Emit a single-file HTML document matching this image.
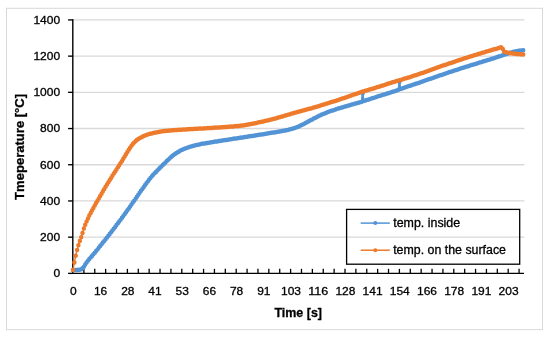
<!DOCTYPE html>
<html lang="en"><head><meta charset="utf-8"><title>Temperature chart</title>
<style>html,body{margin:0;padding:0;background:#fff}body{width:550px;height:339px;overflow:hidden}svg{display:block}text{font-family:"Liberation Sans",sans-serif;fill:#000;stroke:#000;stroke-width:.3px;paint-order:stroke}</style></head><body>
<svg width="550" height="339" viewBox="0 0 550 339">
<rect width="550" height="339" fill="#fff"/>
<rect x="6.5" y="8.3" width="536" height="321.3" fill="none" stroke="#D9D9D9" stroke-width="1"/>
<line x1="73.0" x2="524.4" y1="19.90" y2="19.90" stroke="#D9D9D9" stroke-width="1.3"/>
<line x1="73.0" x2="524.4" y1="56.11" y2="56.11" stroke="#D9D9D9" stroke-width="1.3"/>
<line x1="73.0" x2="524.4" y1="92.31" y2="92.31" stroke="#D9D9D9" stroke-width="1.3"/>
<line x1="73.0" x2="524.4" y1="128.52" y2="128.52" stroke="#D9D9D9" stroke-width="1.3"/>
<line x1="73.0" x2="524.4" y1="164.73" y2="164.73" stroke="#D9D9D9" stroke-width="1.3"/>
<line x1="73.0" x2="524.4" y1="200.94" y2="200.94" stroke="#D9D9D9" stroke-width="1.3"/>
<line x1="73.0" x2="524.4" y1="237.14" y2="237.14" stroke="#D9D9D9" stroke-width="1.3"/>
<line x1="72.8" x2="72.8" y1="19.2" y2="274.0" stroke="#000" stroke-width="1.4"/>
<line x1="72.1" x2="524.0" y1="273.35" y2="273.35" stroke="#000" stroke-width="1.35"/>
<line x1="68.1" x2="73.0" y1="19.92" y2="19.92" stroke="#000" stroke-width="1.35"/>
<text x="60.1" y="23.80" font-size="11.4" text-anchor="end" textLength="26.7" lengthAdjust="spacingAndGlyphs">1400</text>
<line x1="68.1" x2="73.0" y1="56.13" y2="56.13" stroke="#000" stroke-width="1.35"/>
<text x="60.1" y="60.01" font-size="11.4" text-anchor="end" textLength="26.7" lengthAdjust="spacingAndGlyphs">1200</text>
<line x1="68.1" x2="73.0" y1="92.33" y2="92.33" stroke="#000" stroke-width="1.35"/>
<text x="60.1" y="96.21" font-size="11.4" text-anchor="end" textLength="26.7" lengthAdjust="spacingAndGlyphs">1000</text>
<line x1="68.1" x2="73.0" y1="128.54" y2="128.54" stroke="#000" stroke-width="1.35"/>
<text x="60.1" y="132.42" font-size="11.4" text-anchor="end" textLength="20.0" lengthAdjust="spacingAndGlyphs">800</text>
<line x1="68.1" x2="73.0" y1="164.75" y2="164.75" stroke="#000" stroke-width="1.35"/>
<text x="60.1" y="168.63" font-size="11.4" text-anchor="end" textLength="20.0" lengthAdjust="spacingAndGlyphs">600</text>
<line x1="68.1" x2="73.0" y1="200.96" y2="200.96" stroke="#000" stroke-width="1.35"/>
<text x="60.1" y="204.84" font-size="11.4" text-anchor="end" textLength="20.0" lengthAdjust="spacingAndGlyphs">400</text>
<line x1="68.1" x2="73.0" y1="237.16" y2="237.16" stroke="#000" stroke-width="1.35"/>
<text x="60.1" y="241.04" font-size="11.4" text-anchor="end" textLength="20.0" lengthAdjust="spacingAndGlyphs">200</text>
<line x1="68.1" x2="73.0" y1="273.37" y2="273.37" stroke="#000" stroke-width="1.35"/>
<text x="60.1" y="277.25" font-size="11.4" text-anchor="end" textLength="6.7" lengthAdjust="spacingAndGlyphs">0</text>
<line x1="83.88" x2="83.88" y1="268.85" y2="273.45000000000005" stroke="#000" stroke-width="1.3"/>
<line x1="94.76" x2="94.76" y1="268.85" y2="273.45000000000005" stroke="#000" stroke-width="1.3"/>
<line x1="105.64" x2="105.64" y1="268.85" y2="273.45000000000005" stroke="#000" stroke-width="1.3"/>
<line x1="116.52" x2="116.52" y1="268.85" y2="273.45000000000005" stroke="#000" stroke-width="1.3"/>
<line x1="127.40" x2="127.40" y1="268.85" y2="273.45000000000005" stroke="#000" stroke-width="1.3"/>
<line x1="138.28" x2="138.28" y1="268.85" y2="273.45000000000005" stroke="#000" stroke-width="1.3"/>
<line x1="149.16" x2="149.16" y1="268.85" y2="273.45000000000005" stroke="#000" stroke-width="1.3"/>
<line x1="160.04" x2="160.04" y1="268.85" y2="273.45000000000005" stroke="#000" stroke-width="1.3"/>
<line x1="170.92" x2="170.92" y1="268.85" y2="273.45000000000005" stroke="#000" stroke-width="1.3"/>
<line x1="181.80" x2="181.80" y1="268.85" y2="273.45000000000005" stroke="#000" stroke-width="1.3"/>
<line x1="192.68" x2="192.68" y1="268.85" y2="273.45000000000005" stroke="#000" stroke-width="1.3"/>
<line x1="203.56" x2="203.56" y1="268.85" y2="273.45000000000005" stroke="#000" stroke-width="1.3"/>
<line x1="214.44" x2="214.44" y1="268.85" y2="273.45000000000005" stroke="#000" stroke-width="1.3"/>
<line x1="225.32" x2="225.32" y1="268.85" y2="273.45000000000005" stroke="#000" stroke-width="1.3"/>
<line x1="236.20" x2="236.20" y1="268.85" y2="273.45000000000005" stroke="#000" stroke-width="1.3"/>
<line x1="247.08" x2="247.08" y1="268.85" y2="273.45000000000005" stroke="#000" stroke-width="1.3"/>
<line x1="257.96" x2="257.96" y1="268.85" y2="273.45000000000005" stroke="#000" stroke-width="1.3"/>
<line x1="268.84" x2="268.84" y1="268.85" y2="273.45000000000005" stroke="#000" stroke-width="1.3"/>
<line x1="279.72" x2="279.72" y1="268.85" y2="273.45000000000005" stroke="#000" stroke-width="1.3"/>
<line x1="290.60" x2="290.60" y1="268.85" y2="273.45000000000005" stroke="#000" stroke-width="1.3"/>
<line x1="301.48" x2="301.48" y1="268.85" y2="273.45000000000005" stroke="#000" stroke-width="1.3"/>
<line x1="312.36" x2="312.36" y1="268.85" y2="273.45000000000005" stroke="#000" stroke-width="1.3"/>
<line x1="323.24" x2="323.24" y1="268.85" y2="273.45000000000005" stroke="#000" stroke-width="1.3"/>
<line x1="334.12" x2="334.12" y1="268.85" y2="273.45000000000005" stroke="#000" stroke-width="1.3"/>
<line x1="345.00" x2="345.00" y1="268.85" y2="273.45000000000005" stroke="#000" stroke-width="1.3"/>
<line x1="355.88" x2="355.88" y1="268.85" y2="273.45000000000005" stroke="#000" stroke-width="1.3"/>
<line x1="366.76" x2="366.76" y1="268.85" y2="273.45000000000005" stroke="#000" stroke-width="1.3"/>
<line x1="377.64" x2="377.64" y1="268.85" y2="273.45000000000005" stroke="#000" stroke-width="1.3"/>
<line x1="388.52" x2="388.52" y1="268.85" y2="273.45000000000005" stroke="#000" stroke-width="1.3"/>
<line x1="399.40" x2="399.40" y1="268.85" y2="273.45000000000005" stroke="#000" stroke-width="1.3"/>
<line x1="410.28" x2="410.28" y1="268.85" y2="273.45000000000005" stroke="#000" stroke-width="1.3"/>
<line x1="421.16" x2="421.16" y1="268.85" y2="273.45000000000005" stroke="#000" stroke-width="1.3"/>
<line x1="432.04" x2="432.04" y1="268.85" y2="273.45000000000005" stroke="#000" stroke-width="1.3"/>
<line x1="442.92" x2="442.92" y1="268.85" y2="273.45000000000005" stroke="#000" stroke-width="1.3"/>
<line x1="453.80" x2="453.80" y1="268.85" y2="273.45000000000005" stroke="#000" stroke-width="1.3"/>
<line x1="464.68" x2="464.68" y1="268.85" y2="273.45000000000005" stroke="#000" stroke-width="1.3"/>
<line x1="475.56" x2="475.56" y1="268.85" y2="273.45000000000005" stroke="#000" stroke-width="1.3"/>
<line x1="486.44" x2="486.44" y1="268.85" y2="273.45000000000005" stroke="#000" stroke-width="1.3"/>
<line x1="497.32" x2="497.32" y1="268.85" y2="273.45000000000005" stroke="#000" stroke-width="1.3"/>
<line x1="508.20" x2="508.20" y1="268.85" y2="273.45000000000005" stroke="#000" stroke-width="1.3"/>
<line x1="519.08" x2="519.08" y1="268.85" y2="273.45000000000005" stroke="#000" stroke-width="1.3"/>
<text x="73.40" y="295.0" font-size="11.4" text-anchor="middle" textLength="6.7" lengthAdjust="spacingAndGlyphs">0</text>
<text x="100.60" y="295.0" font-size="11.4" text-anchor="middle" textLength="13.3" lengthAdjust="spacingAndGlyphs">16</text>
<text x="127.80" y="295.0" font-size="11.4" text-anchor="middle" textLength="13.3" lengthAdjust="spacingAndGlyphs">28</text>
<text x="155.00" y="295.0" font-size="11.4" text-anchor="middle" textLength="13.3" lengthAdjust="spacingAndGlyphs">41</text>
<text x="182.20" y="295.0" font-size="11.4" text-anchor="middle" textLength="13.3" lengthAdjust="spacingAndGlyphs">53</text>
<text x="209.40" y="295.0" font-size="11.4" text-anchor="middle" textLength="13.3" lengthAdjust="spacingAndGlyphs">66</text>
<text x="236.60" y="295.0" font-size="11.4" text-anchor="middle" textLength="13.3" lengthAdjust="spacingAndGlyphs">78</text>
<text x="263.80" y="295.0" font-size="11.4" text-anchor="middle" textLength="13.3" lengthAdjust="spacingAndGlyphs">91</text>
<text x="291.00" y="295.0" font-size="11.4" text-anchor="middle" textLength="20.0" lengthAdjust="spacingAndGlyphs">103</text>
<text x="318.20" y="295.0" font-size="11.4" text-anchor="middle" textLength="20.0" lengthAdjust="spacingAndGlyphs">116</text>
<text x="345.40" y="295.0" font-size="11.4" text-anchor="middle" textLength="20.0" lengthAdjust="spacingAndGlyphs">128</text>
<text x="372.60" y="295.0" font-size="11.4" text-anchor="middle" textLength="20.0" lengthAdjust="spacingAndGlyphs">141</text>
<text x="399.80" y="295.0" font-size="11.4" text-anchor="middle" textLength="20.0" lengthAdjust="spacingAndGlyphs">154</text>
<text x="427.00" y="295.0" font-size="11.4" text-anchor="middle" textLength="20.0" lengthAdjust="spacingAndGlyphs">166</text>
<text x="454.20" y="295.0" font-size="11.4" text-anchor="middle" textLength="20.0" lengthAdjust="spacingAndGlyphs">178</text>
<text x="481.40" y="295.0" font-size="11.4" text-anchor="middle" textLength="20.0" lengthAdjust="spacingAndGlyphs">191</text>
<text x="508.60" y="295.0" font-size="11.4" text-anchor="middle" textLength="20.0" lengthAdjust="spacingAndGlyphs">203</text>
<polyline fill="none" stroke="#5193D5" stroke-width="1.4" stroke-linejoin="round" stroke-linecap="round" points="73.0,269.9 74.4,269.9 75.7,269.9 77.1,269.9 78.4,269.8 79.8,269.7 81.2,269.2 82.5,268.2 83.9,266.7 85.2,264.5 86.6,262.6 88.0,260.8 89.3,259.1 90.7,257.5 92.0,255.9 93.4,254.3 94.8,252.7 96.1,251.1 97.5,249.5 98.8,247.8 100.2,246.1 101.6,244.3 102.9,242.6 104.3,240.9 105.6,239.2 107.0,237.4 108.4,235.7 109.7,234.0 111.1,232.2 112.4,230.5 113.8,228.7 115.2,226.9 116.5,225.1 117.9,223.3 119.2,221.5 120.6,219.7 122.0,217.8 123.3,216.0 124.7,214.1 126.0,212.2 127.4,210.3 128.8,208.4 130.1,206.5 131.5,204.5 132.8,202.6 134.2,200.7 135.6,198.7 136.9,196.7 138.3,194.8 139.6,192.8 141.0,190.8 142.4,188.9 143.7,187.0 145.1,185.1 146.4,183.2 147.8,181.4 149.2,179.6 150.5,177.9 151.9,176.3 153.2,174.8 154.6,173.3 156.0,171.9 157.3,170.5 158.7,169.2 160.0,167.8 161.4,166.5 162.8,165.1 164.1,163.8 165.5,162.4 166.8,161.0 168.2,159.7 169.6,158.4 170.9,157.2 172.3,156.1 173.6,155.0 175.0,154.0 176.4,153.0 177.7,152.2 179.1,151.4 180.4,150.6 181.8,150.0 183.2,149.3 184.5,148.8 185.9,148.2 187.2,147.7 188.6,147.3 190.0,146.8 191.3,146.4 192.7,146.0 194.0,145.7 195.4,145.3 196.8,145.0 198.1,144.7 199.5,144.4 200.8,144.1 202.2,143.8 203.6,143.6 204.9,143.4 206.3,143.1 207.6,142.9 209.0,142.7 210.4,142.4 211.7,142.2 213.1,142.0 214.4,141.8 215.8,141.6 217.2,141.4 218.5,141.1 219.9,140.9 221.2,140.7 222.6,140.5 224.0,140.3 225.3,140.1 226.7,139.9 228.0,139.7 229.4,139.4 230.8,139.2 232.1,139.0 233.5,138.8 234.8,138.6 236.2,138.4 237.6,138.2 238.9,138.0 240.3,137.8 241.6,137.6 243.0,137.4 244.4,137.1 245.7,136.9 247.1,136.7 248.4,136.5 249.8,136.3 251.2,136.1 252.5,135.9 253.9,135.7 255.2,135.5 256.6,135.2 258.0,135.0 259.3,134.8 260.7,134.6 262.0,134.4 263.4,134.2 264.8,133.9 266.1,133.7 267.5,133.5 268.8,133.3 270.2,133.1 271.6,132.8 272.9,132.6 274.3,132.4 275.6,132.2 277.0,131.9 278.4,131.7 279.7,131.5 281.1,131.2 282.4,131.0 283.8,130.7 285.2,130.5 286.5,130.2 287.9,129.9 289.2,129.6 290.6,129.2 292.0,128.8 293.3,128.4 294.7,128.0 296.0,127.5 297.4,126.9 298.8,126.4 300.1,125.7 301.5,125.1 302.8,124.4 304.2,123.7 305.6,123.0 306.9,122.3 308.3,121.6 309.6,120.8 311.0,120.1 312.4,119.4 313.7,118.6 315.1,117.9 316.4,117.2 317.8,116.5 319.2,115.8 320.5,115.2 321.9,114.6 323.2,114.0 324.6,113.4 326.0,112.9 327.3,112.3 328.7,111.8 330.0,111.3 331.4,110.8 332.8,110.4 334.1,109.9 335.5,109.5 336.8,109.0 338.2,108.6 339.6,108.2 340.9,107.8 342.3,107.4 343.6,106.9 345.0,106.5 346.4,106.2 347.7,105.8 349.1,105.4 350.4,105.0 351.8,104.6 353.2,104.2 354.5,103.8 355.9,103.5 357.2,103.1 358.6,102.7 360.0,102.3 361.3,101.9 362.7,93.1 364.0,101.0 365.4,100.6 366.8,100.1 368.1,99.7 369.5,99.2 370.8,98.8 372.2,98.3 373.6,97.9 374.9,97.4 376.3,97.0 377.6,96.5 379.0,96.1 380.4,95.7 381.7,95.3 383.1,94.8 384.4,94.4 385.8,94.0 387.2,93.6 388.5,93.2 389.9,92.7 391.2,92.3 392.6,91.8 394.0,91.4 395.3,90.9 396.7,90.4 398.0,90.0 399.4,81.8 400.8,89.0 402.1,88.5 403.5,88.0 404.8,87.5 406.2,87.1 407.6,86.6 408.9,86.1 410.3,85.7 411.6,85.2 413.0,84.7 414.4,84.3 415.7,83.8 417.1,83.4 418.4,82.9 419.8,82.4 421.2,82.0 422.5,81.5 423.9,81.0 425.2,80.6 426.6,80.1 428.0,79.6 429.3,79.1 430.7,78.7 432.0,78.2 433.4,77.7 434.8,77.2 436.1,76.8 437.5,76.3 438.8,75.8 440.2,75.3 441.6,74.9 442.9,74.4 444.3,73.9 445.6,73.5 447.0,73.0 448.4,72.6 449.7,72.1 451.1,71.7 452.4,71.2 453.8,70.8 455.2,70.3 456.5,69.9 457.9,69.5 459.2,69.0 460.6,68.6 462.0,68.1 463.3,67.7 464.7,67.3 466.0,66.8 467.4,66.4 468.8,66.0 470.1,65.6 471.5,65.1 472.8,64.7 474.2,64.3 475.6,63.9 476.9,63.4 478.3,63.0 479.6,62.6 481.0,62.2 482.4,61.8 483.7,61.3 485.1,60.9 486.4,60.5 487.8,60.1 489.2,59.7 490.5,59.2 491.9,58.8 493.2,58.4 494.6,57.9 496.0,57.5 497.3,57.1 498.7,56.6 500.0,56.2 501.4,55.7 502.8,55.2 504.1,54.8 505.5,54.3 506.8,53.9 508.2,53.4 509.6,53.0 510.9,52.6 512.3,52.2 513.6,51.8 515.0,51.5 516.4,51.3 517.7,51.0 519.1,50.8 520.4,50.6 521.8,50.4 523.2,50.2"/>
<path fill="none" stroke="#5193D5" stroke-width="4.5" stroke-linecap="round" d="M73.0,269.9h0M74.4,269.9h0M75.7,269.9h0M77.1,269.9h0M78.4,269.8h0M79.8,269.7h0M81.2,269.2h0M82.5,268.2h0M83.9,266.7h0M85.2,264.5h0M86.6,262.6h0M88.0,260.8h0M89.3,259.1h0M90.7,257.5h0M92.0,255.9h0M93.4,254.3h0M94.8,252.7h0M96.1,251.1h0M97.5,249.5h0M98.8,247.8h0M100.2,246.1h0M101.6,244.3h0M102.9,242.6h0M104.3,240.9h0M105.6,239.2h0M107.0,237.4h0M108.4,235.7h0M109.7,234.0h0M111.1,232.2h0M112.4,230.5h0M113.8,228.7h0M115.2,226.9h0M116.5,225.1h0M117.9,223.3h0M119.2,221.5h0M120.6,219.7h0M122.0,217.8h0M123.3,216.0h0M124.7,214.1h0M126.0,212.2h0M127.4,210.3h0M128.8,208.4h0M130.1,206.5h0M131.5,204.5h0M132.8,202.6h0M134.2,200.7h0M135.6,198.7h0M136.9,196.7h0M138.3,194.8h0M139.6,192.8h0M141.0,190.8h0M142.4,188.9h0M143.7,187.0h0M145.1,185.1h0M146.4,183.2h0M147.8,181.4h0M149.2,179.6h0M150.5,177.9h0M151.9,176.3h0M153.2,174.8h0M154.6,173.3h0M156.0,171.9h0M157.3,170.5h0M158.7,169.2h0M160.0,167.8h0M161.4,166.5h0M162.8,165.1h0M164.1,163.8h0M165.5,162.4h0M166.8,161.0h0M168.2,159.7h0M169.6,158.4h0M170.9,157.2h0M172.3,156.1h0M173.6,155.0h0M175.0,154.0h0M176.4,153.0h0M177.7,152.2h0M179.1,151.4h0M180.4,150.6h0M181.8,150.0h0M183.2,149.3h0M184.5,148.8h0M185.9,148.2h0M187.2,147.7h0M188.6,147.3h0M190.0,146.8h0M191.3,146.4h0M192.7,146.0h0M194.0,145.7h0M195.4,145.3h0M196.8,145.0h0M198.1,144.7h0M199.5,144.4h0M200.8,144.1h0M202.2,143.8h0M203.6,143.6h0M204.9,143.4h0M206.3,143.1h0M207.6,142.9h0M209.0,142.7h0M210.4,142.4h0M211.7,142.2h0M213.1,142.0h0M214.4,141.8h0M215.8,141.6h0M217.2,141.4h0M218.5,141.1h0M219.9,140.9h0M221.2,140.7h0M222.6,140.5h0M224.0,140.3h0M225.3,140.1h0M226.7,139.9h0M228.0,139.7h0M229.4,139.4h0M230.8,139.2h0M232.1,139.0h0M233.5,138.8h0M234.8,138.6h0M236.2,138.4h0M237.6,138.2h0M238.9,138.0h0M240.3,137.8h0M241.6,137.6h0M243.0,137.4h0M244.4,137.1h0M245.7,136.9h0M247.1,136.7h0M248.4,136.5h0M249.8,136.3h0M251.2,136.1h0M252.5,135.9h0M253.9,135.7h0M255.2,135.5h0M256.6,135.2h0M258.0,135.0h0M259.3,134.8h0M260.7,134.6h0M262.0,134.4h0M263.4,134.2h0M264.8,133.9h0M266.1,133.7h0M267.5,133.5h0M268.8,133.3h0M270.2,133.1h0M271.6,132.8h0M272.9,132.6h0M274.3,132.4h0M275.6,132.2h0M277.0,131.9h0M278.4,131.7h0M279.7,131.5h0M281.1,131.2h0M282.4,131.0h0M283.8,130.7h0M285.2,130.5h0M286.5,130.2h0M287.9,129.9h0M289.2,129.6h0M290.6,129.2h0M292.0,128.8h0M293.3,128.4h0M294.7,128.0h0M296.0,127.5h0M297.4,126.9h0M298.8,126.4h0M300.1,125.7h0M301.5,125.1h0M302.8,124.4h0M304.2,123.7h0M305.6,123.0h0M306.9,122.3h0M308.3,121.6h0M309.6,120.8h0M311.0,120.1h0M312.4,119.4h0M313.7,118.6h0M315.1,117.9h0M316.4,117.2h0M317.8,116.5h0M319.2,115.8h0M320.5,115.2h0M321.9,114.6h0M323.2,114.0h0M324.6,113.4h0M326.0,112.9h0M327.3,112.3h0M328.7,111.8h0M330.0,111.3h0M331.4,110.8h0M332.8,110.4h0M334.1,109.9h0M335.5,109.5h0M336.8,109.0h0M338.2,108.6h0M339.6,108.2h0M340.9,107.8h0M342.3,107.4h0M343.6,106.9h0M345.0,106.5h0M346.4,106.2h0M347.7,105.8h0M349.1,105.4h0M350.4,105.0h0M351.8,104.6h0M353.2,104.2h0M354.5,103.8h0M355.9,103.5h0M357.2,103.1h0M358.6,102.7h0M360.0,102.3h0M361.3,101.9h0M362.7,93.1h0M364.0,101.0h0M365.4,100.6h0M366.8,100.1h0M368.1,99.7h0M369.5,99.2h0M370.8,98.8h0M372.2,98.3h0M373.6,97.9h0M374.9,97.4h0M376.3,97.0h0M377.6,96.5h0M379.0,96.1h0M380.4,95.7h0M381.7,95.3h0M383.1,94.8h0M384.4,94.4h0M385.8,94.0h0M387.2,93.6h0M388.5,93.2h0M389.9,92.7h0M391.2,92.3h0M392.6,91.8h0M394.0,91.4h0M395.3,90.9h0M396.7,90.4h0M398.0,90.0h0M399.4,81.8h0M400.8,89.0h0M402.1,88.5h0M403.5,88.0h0M404.8,87.5h0M406.2,87.1h0M407.6,86.6h0M408.9,86.1h0M410.3,85.7h0M411.6,85.2h0M413.0,84.7h0M414.4,84.3h0M415.7,83.8h0M417.1,83.4h0M418.4,82.9h0M419.8,82.4h0M421.2,82.0h0M422.5,81.5h0M423.9,81.0h0M425.2,80.6h0M426.6,80.1h0M428.0,79.6h0M429.3,79.1h0M430.7,78.7h0M432.0,78.2h0M433.4,77.7h0M434.8,77.2h0M436.1,76.8h0M437.5,76.3h0M438.8,75.8h0M440.2,75.3h0M441.6,74.9h0M442.9,74.4h0M444.3,73.9h0M445.6,73.5h0M447.0,73.0h0M448.4,72.6h0M449.7,72.1h0M451.1,71.7h0M452.4,71.2h0M453.8,70.8h0M455.2,70.3h0M456.5,69.9h0M457.9,69.5h0M459.2,69.0h0M460.6,68.6h0M462.0,68.1h0M463.3,67.7h0M464.7,67.3h0M466.0,66.8h0M467.4,66.4h0M468.8,66.0h0M470.1,65.6h0M471.5,65.1h0M472.8,64.7h0M474.2,64.3h0M475.6,63.9h0M476.9,63.4h0M478.3,63.0h0M479.6,62.6h0M481.0,62.2h0M482.4,61.8h0M483.7,61.3h0M485.1,60.9h0M486.4,60.5h0M487.8,60.1h0M489.2,59.7h0M490.5,59.2h0M491.9,58.8h0M493.2,58.4h0M494.6,57.9h0M496.0,57.5h0M497.3,57.1h0M498.7,56.6h0M500.0,56.2h0M501.4,55.7h0M502.8,55.2h0M504.1,54.8h0M505.5,54.3h0M506.8,53.9h0M508.2,53.4h0M509.6,53.0h0M510.9,52.6h0M512.3,52.2h0M513.6,51.8h0M515.0,51.5h0M516.4,51.3h0M517.7,51.0h0M519.1,50.8h0M520.4,50.6h0M521.8,50.4h0M523.2,50.2h0"/>
<line x1="362.7" x2="362.7" y1="93.1" y2="101.4" stroke="#5193D5" stroke-width="2.3"/>
<line x1="399.4" x2="399.4" y1="81.8" y2="89.5" stroke="#5193D5" stroke-width="2.3"/>
<polyline fill="none" stroke="#EE7A2B" stroke-width="1.4" stroke-linejoin="round" stroke-linecap="round" points="73.0,269.9 74.4,262.4 75.7,255.7 77.1,250.1 78.4,245.2 79.8,241.0 81.2,237.2 82.5,232.9 83.9,228.5 85.2,224.8 86.6,221.5 88.0,218.4 89.3,215.6 90.7,213.1 92.0,210.6 93.4,208.1 94.8,205.6 96.1,203.1 97.5,200.7 98.8,198.4 100.2,196.0 101.6,193.7 102.9,191.3 104.3,189.0 105.6,186.8 107.0,184.5 108.4,182.3 109.7,180.1 111.1,177.9 112.4,175.8 113.8,173.6 115.2,171.5 116.5,169.4 117.9,167.3 119.2,165.2 120.6,163.0 122.0,160.9 123.3,158.7 124.7,156.5 126.0,154.2 127.4,152.0 128.8,149.8 130.1,147.7 131.5,145.8 132.8,144.1 134.2,142.6 135.6,141.2 136.9,140.1 138.3,139.1 139.6,138.2 141.0,137.4 142.4,136.7 143.7,136.1 145.1,135.5 146.4,135.0 147.8,134.5 149.2,134.1 150.5,133.7 151.9,133.4 153.2,133.1 154.6,132.8 156.0,132.5 157.3,132.2 158.7,132.0 160.0,131.7 161.4,131.5 162.8,131.3 164.1,131.1 165.5,131.0 166.8,130.8 168.2,130.7 169.6,130.5 170.9,130.4 172.3,130.3 173.6,130.2 175.0,130.1 176.4,130.0 177.7,129.9 179.1,129.8 180.4,129.7 181.8,129.7 183.2,129.6 184.5,129.5 185.9,129.4 187.2,129.3 188.6,129.2 190.0,129.1 191.3,129.0 192.7,129.0 194.0,128.9 195.4,128.8 196.8,128.7 198.1,128.7 199.5,128.6 200.8,128.5 202.2,128.4 203.6,128.4 204.9,128.3 206.3,128.2 207.6,128.1 209.0,128.1 210.4,128.0 211.7,127.9 213.1,127.8 214.4,127.7 215.8,127.6 217.2,127.5 218.5,127.5 219.9,127.4 221.2,127.3 222.6,127.2 224.0,127.1 225.3,127.0 226.7,126.9 228.0,126.8 229.4,126.7 230.8,126.6 232.1,126.5 233.5,126.4 234.8,126.3 236.2,126.1 237.6,126.0 238.9,125.9 240.3,125.7 241.6,125.6 243.0,125.4 244.4,125.2 245.7,125.0 247.1,124.7 248.4,124.5 249.8,124.3 251.2,124.0 252.5,123.7 253.9,123.5 255.2,123.2 256.6,122.9 258.0,122.6 259.3,122.3 260.7,122.0 262.0,121.7 263.4,121.4 264.8,121.1 266.1,120.8 267.5,120.5 268.8,120.2 270.2,119.8 271.6,119.5 272.9,119.1 274.3,118.8 275.6,118.4 277.0,118.0 278.4,117.6 279.7,117.2 281.1,116.8 282.4,116.4 283.8,116.0 285.2,115.6 286.5,115.2 287.9,114.8 289.2,114.4 290.6,114.0 292.0,113.6 293.3,113.2 294.7,112.8 296.0,112.4 297.4,112.0 298.8,111.7 300.1,111.3 301.5,110.9 302.8,110.6 304.2,110.2 305.6,109.8 306.9,109.5 308.3,109.1 309.6,108.7 311.0,108.4 312.4,108.0 313.7,107.6 315.1,107.2 316.4,106.8 317.8,106.4 319.2,105.9 320.5,105.5 321.9,105.1 323.2,104.7 324.6,104.3 326.0,103.8 327.3,103.4 328.7,103.0 330.0,102.6 331.4,102.1 332.8,101.7 334.1,101.3 335.5,100.9 336.8,100.4 338.2,100.0 339.6,99.6 340.9,99.1 342.3,98.6 343.6,98.2 345.0,97.7 346.4,97.2 347.7,96.7 349.1,96.3 350.4,95.8 351.8,95.3 353.2,94.8 354.5,94.3 355.9,93.9 357.2,93.4 358.6,92.9 360.0,92.5 361.3,92.1 362.7,91.6 364.0,91.2 365.4,90.8 366.8,90.4 368.1,90.0 369.5,89.6 370.8,89.2 372.2,88.8 373.6,88.4 374.9,88.0 376.3,87.6 377.6,87.1 379.0,86.7 380.4,86.3 381.7,85.8 383.1,85.4 384.4,85.0 385.8,84.5 387.2,84.1 388.5,83.6 389.9,83.2 391.2,82.8 392.6,82.3 394.0,81.9 395.3,81.5 396.7,81.1 398.0,80.7 399.4,80.3 400.8,79.9 402.1,79.4 403.5,79.0 404.8,78.6 406.2,78.2 407.6,77.8 408.9,77.4 410.3,76.9 411.6,76.5 413.0,76.1 414.4,75.6 415.7,75.2 417.1,74.7 418.4,74.3 419.8,73.8 421.2,73.3 422.5,72.9 423.9,72.4 425.2,71.9 426.6,71.4 428.0,70.9 429.3,70.5 430.7,70.0 432.0,69.5 433.4,69.0 434.8,68.5 436.1,68.0 437.5,67.5 438.8,67.1 440.2,66.6 441.6,66.1 442.9,65.6 444.3,65.2 445.6,64.7 447.0,64.2 448.4,63.8 449.7,63.3 451.1,62.9 452.4,62.4 453.8,62.0 455.2,61.5 456.5,61.0 457.9,60.6 459.2,60.1 460.6,59.7 462.0,59.2 463.3,58.8 464.7,58.3 466.0,57.9 467.4,57.4 468.8,57.0 470.1,56.6 471.5,56.2 472.8,55.7 474.2,55.3 475.6,54.9 476.9,54.5 478.3,54.1 479.6,53.7 481.0,53.3 482.4,52.8 483.7,52.4 485.1,52.0 486.4,51.6 487.8,51.2 489.2,50.8 490.5,50.4 491.9,50.0 493.2,49.6 494.6,49.2 496.0,48.9 497.3,48.4 498.7,48.1 500.0,47.6 501.4,47.4 502.8,49.0 504.1,51.5 505.5,52.1 506.8,52.5 508.2,52.8 509.6,53.0 510.9,53.2 512.3,53.4 513.6,53.6 515.0,53.7 516.4,53.9 517.7,54.0 519.1,54.1 520.4,54.2 521.8,54.3 523.2,54.4"/>
<path fill="none" stroke="#EE7A2B" stroke-width="4.5" stroke-linecap="round" d="M73.0,269.9h0M74.4,262.4h0M75.7,255.7h0M77.1,250.1h0M78.4,245.2h0M79.8,241.0h0M81.2,237.2h0M82.5,232.9h0M83.9,228.5h0M85.2,224.8h0M86.6,221.5h0M88.0,218.4h0M89.3,215.6h0M90.7,213.1h0M92.0,210.6h0M93.4,208.1h0M94.8,205.6h0M96.1,203.1h0M97.5,200.7h0M98.8,198.4h0M100.2,196.0h0M101.6,193.7h0M102.9,191.3h0M104.3,189.0h0M105.6,186.8h0M107.0,184.5h0M108.4,182.3h0M109.7,180.1h0M111.1,177.9h0M112.4,175.8h0M113.8,173.6h0M115.2,171.5h0M116.5,169.4h0M117.9,167.3h0M119.2,165.2h0M120.6,163.0h0M122.0,160.9h0M123.3,158.7h0M124.7,156.5h0M126.0,154.2h0M127.4,152.0h0M128.8,149.8h0M130.1,147.7h0M131.5,145.8h0M132.8,144.1h0M134.2,142.6h0M135.6,141.2h0M136.9,140.1h0M138.3,139.1h0M139.6,138.2h0M141.0,137.4h0M142.4,136.7h0M143.7,136.1h0M145.1,135.5h0M146.4,135.0h0M147.8,134.5h0M149.2,134.1h0M150.5,133.7h0M151.9,133.4h0M153.2,133.1h0M154.6,132.8h0M156.0,132.5h0M157.3,132.2h0M158.7,132.0h0M160.0,131.7h0M161.4,131.5h0M162.8,131.3h0M164.1,131.1h0M165.5,131.0h0M166.8,130.8h0M168.2,130.7h0M169.6,130.5h0M170.9,130.4h0M172.3,130.3h0M173.6,130.2h0M175.0,130.1h0M176.4,130.0h0M177.7,129.9h0M179.1,129.8h0M180.4,129.7h0M181.8,129.7h0M183.2,129.6h0M184.5,129.5h0M185.9,129.4h0M187.2,129.3h0M188.6,129.2h0M190.0,129.1h0M191.3,129.0h0M192.7,129.0h0M194.0,128.9h0M195.4,128.8h0M196.8,128.7h0M198.1,128.7h0M199.5,128.6h0M200.8,128.5h0M202.2,128.4h0M203.6,128.4h0M204.9,128.3h0M206.3,128.2h0M207.6,128.1h0M209.0,128.1h0M210.4,128.0h0M211.7,127.9h0M213.1,127.8h0M214.4,127.7h0M215.8,127.6h0M217.2,127.5h0M218.5,127.5h0M219.9,127.4h0M221.2,127.3h0M222.6,127.2h0M224.0,127.1h0M225.3,127.0h0M226.7,126.9h0M228.0,126.8h0M229.4,126.7h0M230.8,126.6h0M232.1,126.5h0M233.5,126.4h0M234.8,126.3h0M236.2,126.1h0M237.6,126.0h0M238.9,125.9h0M240.3,125.7h0M241.6,125.6h0M243.0,125.4h0M244.4,125.2h0M245.7,125.0h0M247.1,124.7h0M248.4,124.5h0M249.8,124.3h0M251.2,124.0h0M252.5,123.7h0M253.9,123.5h0M255.2,123.2h0M256.6,122.9h0M258.0,122.6h0M259.3,122.3h0M260.7,122.0h0M262.0,121.7h0M263.4,121.4h0M264.8,121.1h0M266.1,120.8h0M267.5,120.5h0M268.8,120.2h0M270.2,119.8h0M271.6,119.5h0M272.9,119.1h0M274.3,118.8h0M275.6,118.4h0M277.0,118.0h0M278.4,117.6h0M279.7,117.2h0M281.1,116.8h0M282.4,116.4h0M283.8,116.0h0M285.2,115.6h0M286.5,115.2h0M287.9,114.8h0M289.2,114.4h0M290.6,114.0h0M292.0,113.6h0M293.3,113.2h0M294.7,112.8h0M296.0,112.4h0M297.4,112.0h0M298.8,111.7h0M300.1,111.3h0M301.5,110.9h0M302.8,110.6h0M304.2,110.2h0M305.6,109.8h0M306.9,109.5h0M308.3,109.1h0M309.6,108.7h0M311.0,108.4h0M312.4,108.0h0M313.7,107.6h0M315.1,107.2h0M316.4,106.8h0M317.8,106.4h0M319.2,105.9h0M320.5,105.5h0M321.9,105.1h0M323.2,104.7h0M324.6,104.3h0M326.0,103.8h0M327.3,103.4h0M328.7,103.0h0M330.0,102.6h0M331.4,102.1h0M332.8,101.7h0M334.1,101.3h0M335.5,100.9h0M336.8,100.4h0M338.2,100.0h0M339.6,99.6h0M340.9,99.1h0M342.3,98.6h0M343.6,98.2h0M345.0,97.7h0M346.4,97.2h0M347.7,96.7h0M349.1,96.3h0M350.4,95.8h0M351.8,95.3h0M353.2,94.8h0M354.5,94.3h0M355.9,93.9h0M357.2,93.4h0M358.6,92.9h0M360.0,92.5h0M361.3,92.1h0M362.7,91.6h0M364.0,91.2h0M365.4,90.8h0M366.8,90.4h0M368.1,90.0h0M369.5,89.6h0M370.8,89.2h0M372.2,88.8h0M373.6,88.4h0M374.9,88.0h0M376.3,87.6h0M377.6,87.1h0M379.0,86.7h0M380.4,86.3h0M381.7,85.8h0M383.1,85.4h0M384.4,85.0h0M385.8,84.5h0M387.2,84.1h0M388.5,83.6h0M389.9,83.2h0M391.2,82.8h0M392.6,82.3h0M394.0,81.9h0M395.3,81.5h0M396.7,81.1h0M398.0,80.7h0M399.4,80.3h0M400.8,79.9h0M402.1,79.4h0M403.5,79.0h0M404.8,78.6h0M406.2,78.2h0M407.6,77.8h0M408.9,77.4h0M410.3,76.9h0M411.6,76.5h0M413.0,76.1h0M414.4,75.6h0M415.7,75.2h0M417.1,74.7h0M418.4,74.3h0M419.8,73.8h0M421.2,73.3h0M422.5,72.9h0M423.9,72.4h0M425.2,71.9h0M426.6,71.4h0M428.0,70.9h0M429.3,70.5h0M430.7,70.0h0M432.0,69.5h0M433.4,69.0h0M434.8,68.5h0M436.1,68.0h0M437.5,67.5h0M438.8,67.1h0M440.2,66.6h0M441.6,66.1h0M442.9,65.6h0M444.3,65.2h0M445.6,64.7h0M447.0,64.2h0M448.4,63.8h0M449.7,63.3h0M451.1,62.9h0M452.4,62.4h0M453.8,62.0h0M455.2,61.5h0M456.5,61.0h0M457.9,60.6h0M459.2,60.1h0M460.6,59.7h0M462.0,59.2h0M463.3,58.8h0M464.7,58.3h0M466.0,57.9h0M467.4,57.4h0M468.8,57.0h0M470.1,56.6h0M471.5,56.2h0M472.8,55.7h0M474.2,55.3h0M475.6,54.9h0M476.9,54.5h0M478.3,54.1h0M479.6,53.7h0M481.0,53.3h0M482.4,52.8h0M483.7,52.4h0M485.1,52.0h0M486.4,51.6h0M487.8,51.2h0M489.2,50.8h0M490.5,50.4h0M491.9,50.0h0M493.2,49.6h0M494.6,49.2h0M496.0,48.9h0M497.3,48.4h0M498.7,48.1h0M500.0,47.6h0M501.4,47.4h0M502.8,49.0h0M504.1,51.5h0M505.5,52.1h0M506.8,52.5h0M508.2,52.8h0M509.6,53.0h0M510.9,53.2h0M512.3,53.4h0M513.6,53.6h0M515.0,53.7h0M516.4,53.9h0M517.7,54.0h0M519.1,54.1h0M520.4,54.2h0M521.8,54.3h0M523.2,54.4h0"/>
<text x="298.2" y="317" font-size="13" font-weight="bold" text-anchor="middle" textLength="47.6" lengthAdjust="spacingAndGlyphs">Time [s]</text>
<text transform="translate(23.9 146.9) rotate(-90)" font-size="13" font-weight="bold" text-anchor="middle" textLength="106" lengthAdjust="spacingAndGlyphs">Tmeperature [°C]</text>
<rect x="346.6" y="209.4" width="173.1" height="54.8" fill="none" stroke="#000" stroke-width="1.3"/>
<line x1="360.7" x2="389.8" y1="223.1" y2="223.1" stroke="#5193D5" stroke-width="1.5"/>
<circle cx="375.3" cy="223.1" r="2.0" fill="#5193D5"/>
<text x="393.2" y="227.1" font-size="12" textLength="67.0" lengthAdjust="spacingAndGlyphs">temp. inside</text>
<line x1="360.7" x2="389.8" y1="250.2" y2="250.2" stroke="#EE7A2B" stroke-width="1.5"/>
<circle cx="375.3" cy="250.2" r="2.0" fill="#EE7A2B"/>
<text x="393.2" y="254.2" font-size="12" textLength="112.8" lengthAdjust="spacingAndGlyphs">temp. on the surface</text>
</svg>
</body></html>
